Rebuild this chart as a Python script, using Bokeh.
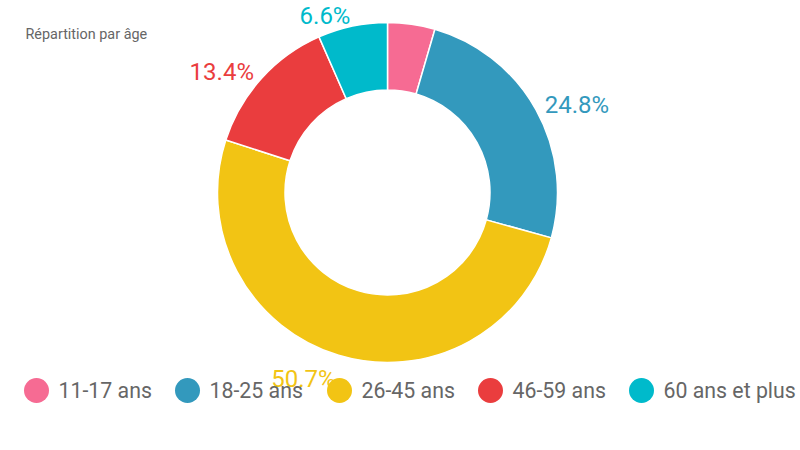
import math
from bokeh.plotting import figure
from bokeh.models import Range1d, ColumnDataSource
from bokeh.core.properties import value
from bokeh.embed import file_html
from bokeh.resources import INLINE

# ---- data ----
title_text = "Répartition par âge"
categories = ["11-17 ans", "18-25 ans", "26-45 ans", "46-59 ans", "60 ans et plus"]
shares = [4.5, 24.8, 50.7, 13.4, 6.6]
colors = ["#F66B93", "#3399BD", "#F2C414", "#EA3D3E", "#00BACB"]

# ---- layout ----
W, H = 800, 442
CX, CY = 387, 450 - 192
R_OUT, R_IN = 170, 102.5
R_LABEL = 180
legend_x = [36, 187, 339, 490, 641]
legend_y = 450 - 390
FONT = "Roboto"

p = figure(width=W, height=H, output_backend="svg", toolbar_location=None,
           x_range=Range1d(0, W), y_range=Range1d(450 - H, 450),
           min_border=0)
p.axis.visible = False
p.grid.visible = False
p.outline_line_color = None
p.background_fill_color = "white"
p.border_fill_color = "white"

total = sum(shares)
starts, ends, mids = [], [], []
acc = 0.0
for v in shares:
    a0 = acc / total
    acc += v
    a1 = acc / total
    starts.append(math.pi / 2 - a0 * 2 * math.pi)
    ends.append(math.pi / 2 - a1 * 2 * math.pi)
    mids.append((a0 + a1) / 2 * 2 * math.pi)

src = ColumnDataSource(dict(start=starts, end=ends, color=colors))
p.annular_wedge(x=CX, y=CY, inner_radius=R_IN, outer_radius=R_OUT,
                start_angle="start", end_angle="end", direction="clock",
                fill_color="color", line_color="white", line_width=1.5,
                source=src)

# value labels (small slices are not labelled)
lx, ly, lt, lc, la, lb = [], [], [], [], [], []
for v, m, c in zip(shares, mids, colors):
    if v < 5:
        continue
    s, co = math.sin(m), math.cos(m)
    lx.append(CX + R_LABEL * s)
    ly.append(CY + R_LABEL * co)
    lt.append(f"{v:.1f}%")
    lc.append(c)
    la.append("left" if s > 0 else "right")
    lb.append("top" if co < -0.8 else "middle")
lsrc = ColumnDataSource(dict(x=lx, y=ly, t=lt, c=lc, a=la, b=lb))
p.text(x="x", y="y", text="t", text_color="c", text_align="a",
       text_baseline="b", text_font=value(FONT), text_font_size="24px",
       source=lsrc)

# title
p.text(x=[25], y=[450 - 34], text=[title_text], text_color="#666666",
       text_font=value(FONT), text_font_size="14.4px",
       text_align="left", text_baseline="middle")

# legend
p.scatter(x=legend_x, y=[legend_y] * len(categories), size=25,
          fill_color=colors, line_color=None)
p.text(x=[x + 22 for x in legend_x], y=[legend_y] * len(categories),
       text=categories, text_color="#666666", text_font=value(FONT),
       text_font_size="21.3px", text_align="left", text_baseline="middle")

open("out.html", "w").write(file_html(p, INLINE))
